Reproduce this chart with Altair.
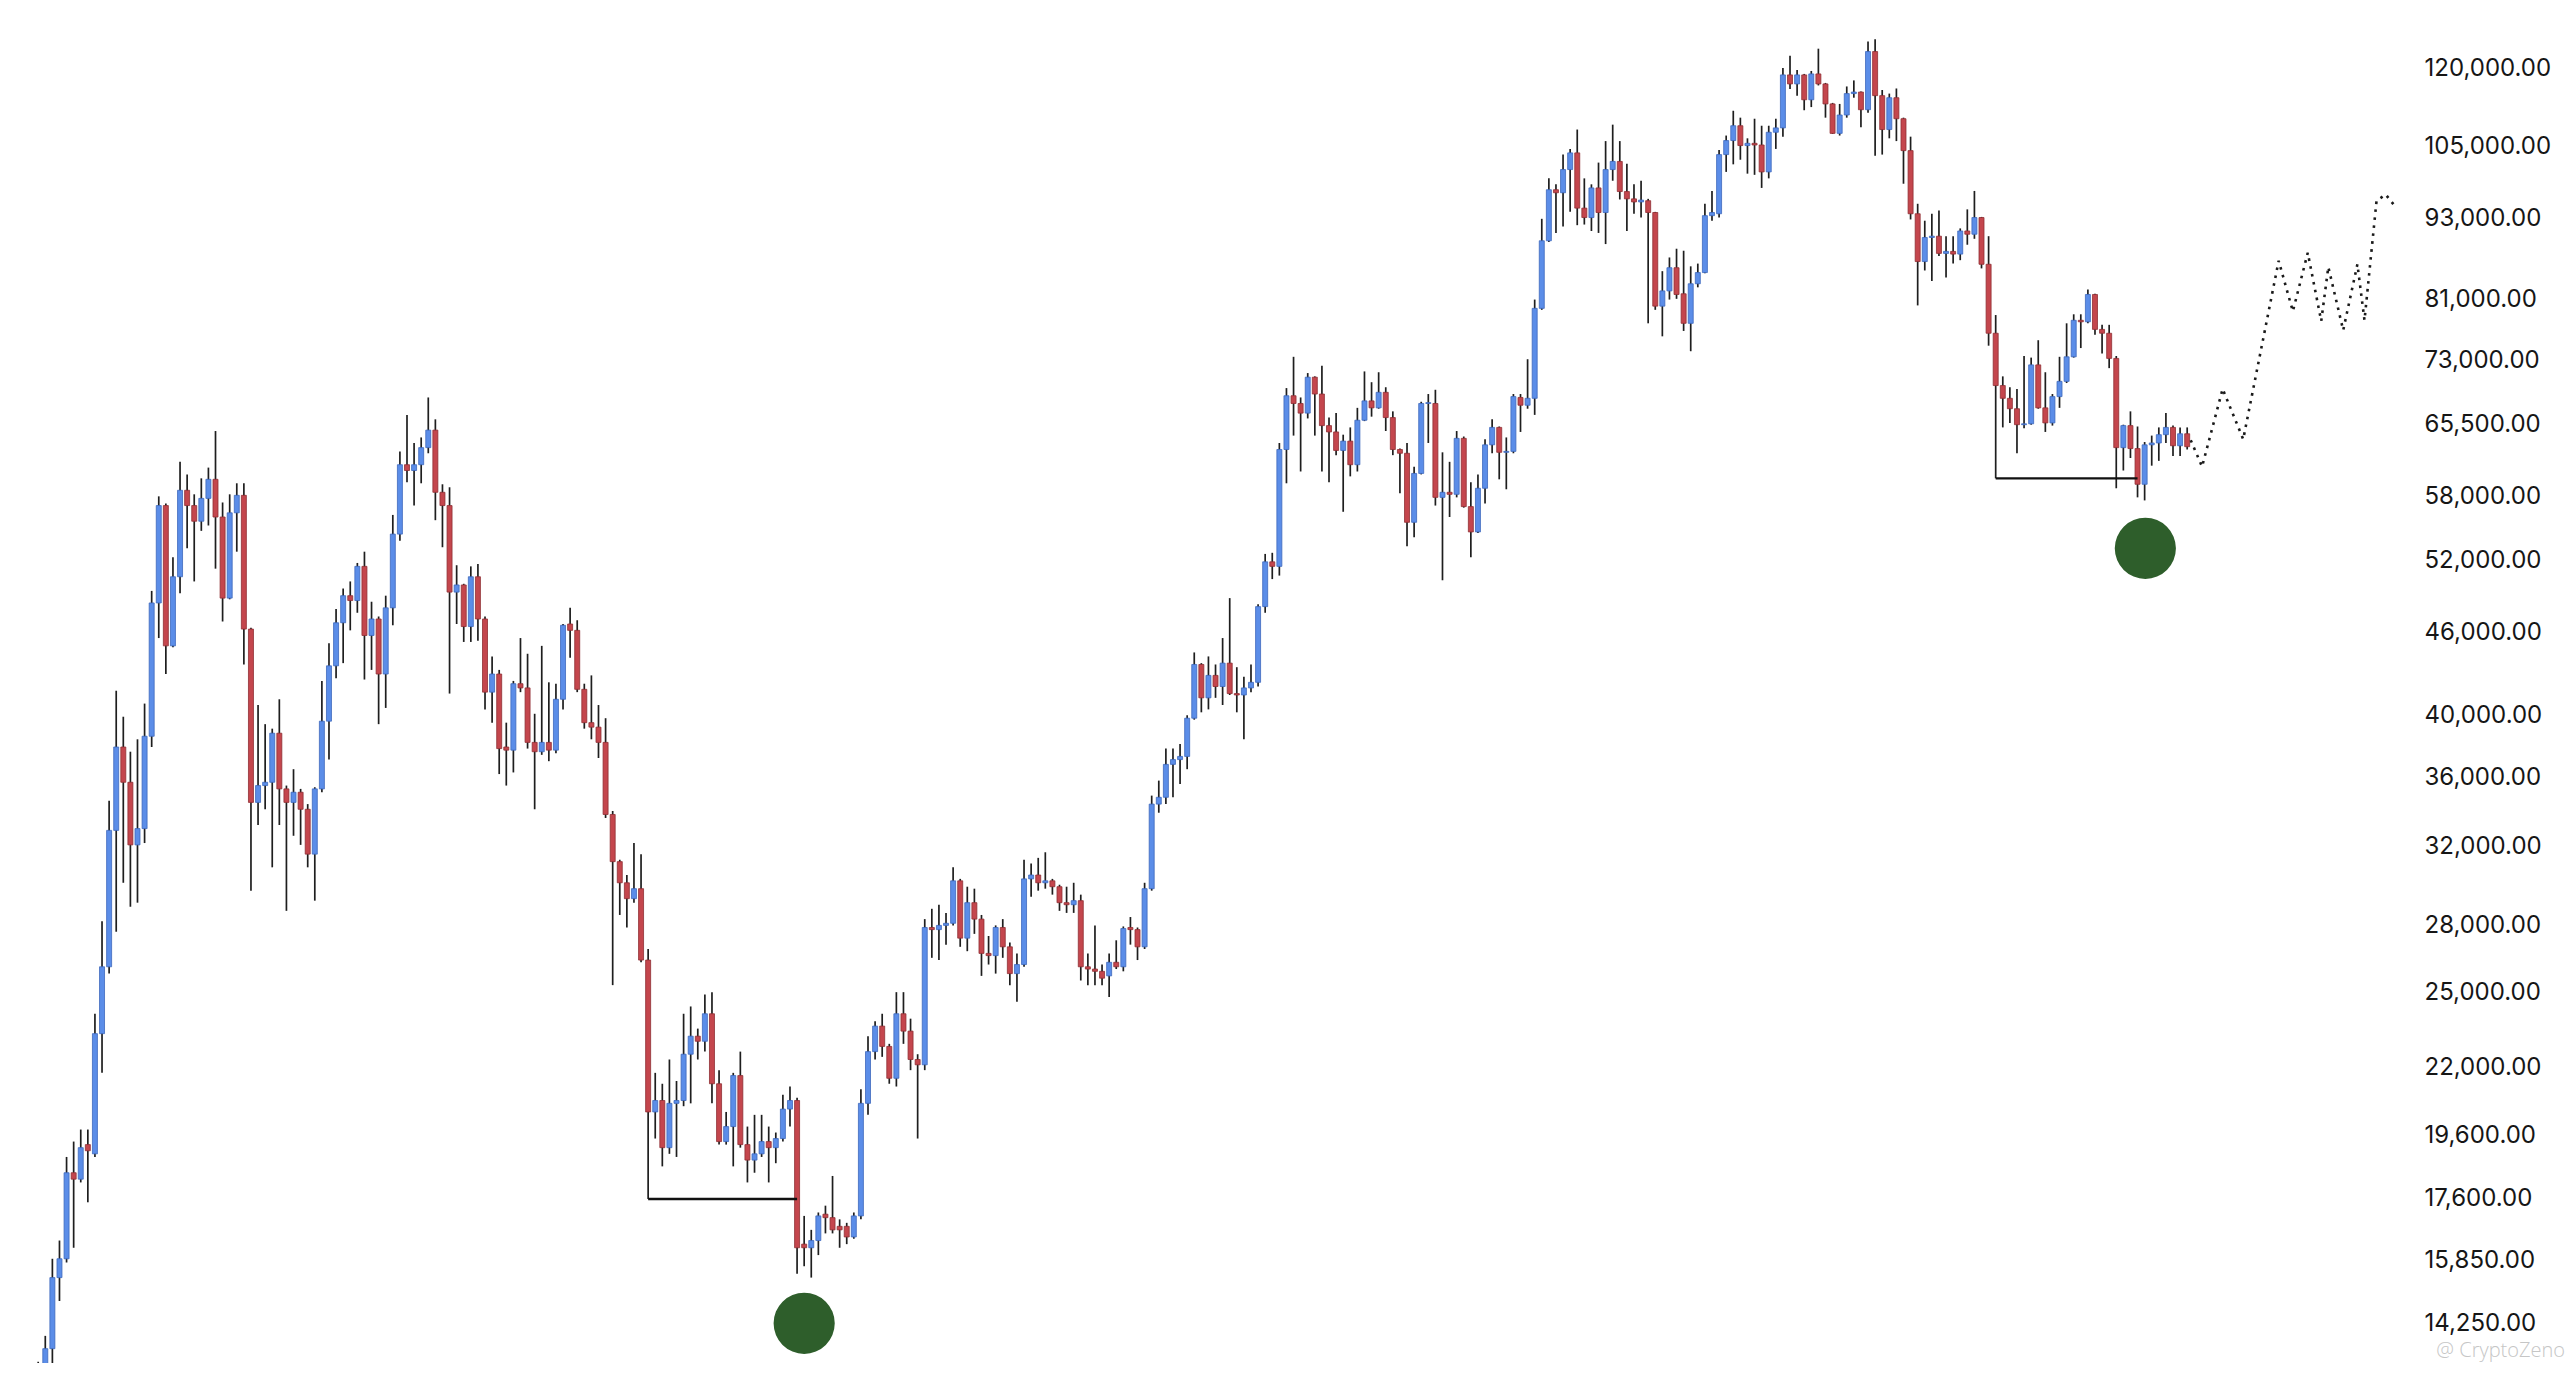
import altair as alt
import pandas as pd

# Weekly candles, prices in thousands of USD, week index 0..303
opens = [
    11.5, 13.2, 13.65, 15.4, 15.9, 18.4, 18.2, 19.3, 19.0, 23.3,
    26.1, 32.9, 37.9, 35.7, 32.1, 33.0, 38.6, 48.4, 57.1, 45.0,
    50.6, 58.6, 57.1, 55.6, 57.8, 59.7, 56.0, 48.8, 56.4, 58.1,
    46.3, 34.5, 35.5, 35.7, 38.8, 35.3, 34.5, 35.1, 34.1, 31.6,
    35.3, 39.6, 43.5, 46.8, 49.0, 48.6, 51.5, 45.8, 47.1, 42.9,
    48.0, 54.4, 61.2, 60.6, 61.2, 63.0, 64.9, 58.4, 57.1, 49.3,
    49.9, 46.5, 50.6, 47.1, 41.6, 42.9, 37.9, 37.7, 42.2, 41.9,
    38.2, 37.6, 38.2, 37.7, 41.1, 46.7, 46.2, 41.8, 39.5, 39.2,
    38.2, 33.8, 31.2, 30.1, 29.3, 29.8, 26.4, 20.4, 20.8, 19.2,
    20.7, 20.8, 22.5, 23.2, 23.0, 24.1, 21.4, 19.4, 19.9, 21.7,
    19.3, 18.8, 19.0, 19.4, 19.2, 19.5, 20.5, 20.8, 16.3, 16.2,
    16.4, 17.15, 17.05, 16.8, 16.8, 16.5, 17.1, 20.7, 22.6, 23.6,
    22.8, 21.6, 24.1, 23.4, 22.3, 22.1, 27.9, 27.8, 28.0, 28.1,
    30.2, 27.4, 29.1, 28.3, 26.7, 26.6, 27.9, 27.0, 25.8, 26.2,
    30.3, 30.5, 30.1, 30.2, 29.9, 29.1, 29.0, 29.2, 26.1, 26.0,
    25.9, 25.7, 26.3, 26.1, 27.9, 27.8, 27.0, 29.8, 34.4, 34.8,
    36.8, 37.1, 37.3, 39.8, 43.6, 41.2, 42.8, 42.0, 43.7, 41.5,
    41.4, 41.9, 42.3, 48.1, 51.9, 51.5, 62.8, 68.8, 67.9, 66.8,
    71.0, 69.0, 65.4, 64.7, 62.7, 63.7, 61.2, 66.0, 68.2, 67.4,
    69.2, 66.3, 62.8, 62.4, 55.5, 60.3, 67.9, 67.9, 57.9, 58.4,
    58.2, 64.0, 57.0, 54.6, 58.8, 63.3, 65.2, 62.5, 62.6, 68.6,
    67.7, 68.5, 79.8, 89.5, 97.6, 97.1, 101.0, 103.9, 94.6, 93.1,
    97.9, 93.9, 101.0, 102.4, 97.3, 96.1, 95.6, 95.8, 93.9, 80.1,
    82.2, 85.5, 81.8, 77.8, 83.2, 84.8, 93.4, 93.7, 103.6, 106.1,
    108.8, 105.2, 105.6, 105.3, 100.6, 107.6, 108.4, 118.6, 116.8, 118.6,
    113.7, 118.8, 116.8, 112.9, 107.4, 110.8, 114.9, 115.2, 111.8, 123.4,
    114.5, 108.1, 114.1, 110.1, 104.3, 93.7, 86.4, 90.0, 90.2, 87.6,
    87.9, 87.5, 91.0, 90.5, 93.1, 86.0, 76.5, 70.0, 68.5, 67.3,
    65.5, 65.6, 72.5, 67.4, 65.7, 68.7, 70.5, 73.5, 78.2, 78.0,
    81.7, 77.0, 76.5, 73.3, 63.0, 65.4, 62.9, 59.2, 63.3, 63.5,
    64.4, 65.2, 63.2, 64.5,
]
closes = [
    13.2, 13.65, 15.4, 15.9, 18.4, 18.2, 19.2, 19.1, 23.3, 26.1,
    32.9, 37.9, 35.7, 32.1, 33.0, 38.6, 48.4, 57.1, 45.0, 50.6,
    58.6, 57.1, 55.6, 57.8, 59.7, 56.0, 48.8, 56.4, 58.1, 46.3,
    34.5, 35.5, 35.7, 38.8, 35.3, 34.5, 35.1, 34.1, 31.6, 35.3,
    39.6, 43.5, 46.8, 49.0, 48.6, 51.5, 45.8, 47.1, 42.9, 48.0,
    54.4, 61.2, 60.6, 61.2, 63.0, 64.9, 58.4, 57.1, 49.3, 49.9,
    46.5, 50.6, 47.1, 41.6, 42.9, 37.8, 37.7, 42.2, 41.9, 38.2,
    37.6, 38.2, 37.7, 41.1, 46.6, 46.2, 41.8, 39.5, 39.2, 38.2,
    33.8, 31.2, 30.1, 29.3, 29.8, 26.4, 20.4, 20.8, 19.2, 20.7,
    20.8, 22.5, 23.2, 23.0, 24.1, 21.4, 19.4, 19.9, 21.7, 19.3,
    18.8, 19.0, 19.4, 19.2, 19.5, 20.5, 20.8, 16.2, 16.2, 16.4,
    17.1, 17.05, 16.7, 16.7, 16.5, 17.1, 20.7, 22.6, 23.6, 22.8,
    21.6, 24.1, 23.4, 22.3, 22.1, 27.9, 27.8, 28.0, 28.1, 30.2,
    27.4, 29.1, 28.3, 26.7, 26.6, 27.9, 27.0, 25.8, 26.2, 30.3,
    30.5, 30.1, 30.2, 29.9, 29.1, 29.0, 29.2, 26.1, 26.0, 25.9,
    25.6, 26.3, 26.1, 27.85, 27.8, 27.0, 29.8, 34.4, 34.8, 36.8,
    37.1, 37.3, 39.8, 43.6, 41.2, 42.8, 42.0, 43.7, 41.5, 41.4,
    41.9, 42.3, 48.1, 51.9, 51.5, 62.8, 68.8, 67.9, 66.8, 71.0,
    69.0, 65.4, 64.7, 62.7, 63.7, 61.2, 66.0, 68.2, 67.4, 69.2,
    66.3, 62.8, 62.4, 55.5, 60.3, 67.9, 68.0, 57.9, 58.4, 58.2,
    64.0, 57.0, 54.6, 58.8, 63.3, 65.2, 62.5, 62.6, 68.7, 67.7,
    68.5, 79.8, 89.5, 97.6, 97.1, 101.0, 103.9, 94.6, 93.1, 97.9,
    93.9, 101.0, 102.4, 97.3, 96.1, 95.6, 95.9, 93.9, 80.1, 82.2,
    85.5, 81.7, 77.8, 83.2, 84.8, 93.4, 93.9, 103.6, 106.1, 108.8,
    105.2, 105.6, 105.3, 100.6, 107.6, 108.4, 118.6, 116.8, 118.6, 113.7,
    118.8, 116.8, 112.9, 107.4, 110.8, 114.9, 115.2, 111.8, 123.4, 114.5,
    108.1, 114.1, 110.1, 104.3, 93.7, 86.4, 90.0, 90.2, 87.6, 87.9,
    87.5, 91.0, 90.5, 93.1, 86.0, 76.5, 70.0, 68.5, 67.3, 65.5,
    65.6, 72.5, 67.4, 65.7, 68.7, 70.5, 73.5, 78.2, 78.0, 81.7,
    77.0, 76.5, 73.3, 63.0, 65.4, 62.9, 59.2, 63.3, 63.5, 64.4,
    65.2, 63.2, 64.5, 63.1,
]
highs = [
    13.35, 13.95, 15.9, 16.4, 18.9, 19.4, 19.8, 19.8, 24.1, 28.2,
    34.6, 41.7, 39.9, 37.6, 38.4, 40.8, 49.4, 58.0, 57.3, 52.3,
    61.5, 60.2, 58.2, 59.8, 60.9, 64.8, 57.4, 58.2, 59.3, 59.3,
    46.4, 40.7, 39.4, 39.1, 41.1, 35.5, 36.5, 35.3, 34.4, 35.4,
    42.4, 45.2, 47.9, 49.6, 50.2, 51.8, 52.8, 48.5, 47.3, 49.0,
    56.2, 62.6, 66.6, 63.5, 64.1, 68.6, 66.1, 59.2, 58.9, 51.6,
    50.0, 51.5, 51.7, 47.3, 44.2, 43.2, 39.5, 42.4, 45.6, 44.4,
    40.1, 45.0, 42.3, 42.2, 46.7, 48.0, 47.0, 42.2, 42.8, 40.7,
    39.8, 34.0, 31.3, 30.5, 32.2, 31.6, 26.9, 21.8, 21.4, 22.3,
    21.5, 24.1, 24.4, 23.5, 24.9, 25.0, 21.9, 20.4, 21.8, 22.6,
    19.9, 20.3, 20.3, 19.9, 19.7, 21.0, 21.3, 20.9, 17.1, 16.7,
    17.2, 17.4, 18.3, 17.0, 16.9, 17.2, 21.2, 23.2, 23.8, 24.1,
    22.9, 25.0, 25.0, 23.9, 22.5, 28.3, 28.8, 29.0, 28.6, 30.9,
    30.3, 29.9, 29.8, 28.5, 27.5, 28.0, 28.3, 27.2, 26.7, 31.3,
    31.1, 31.4, 31.7, 30.3, 30.0, 29.9, 30.1, 29.5, 26.7, 28.0,
    26.2, 26.7, 27.3, 27.95, 28.4, 27.9, 30.1, 34.9, 35.8, 37.8,
    37.8, 38.1, 40.0, 44.5, 43.7, 44.2, 43.6, 45.6, 48.8, 43.4,
    42.7, 43.6, 48.3, 52.6, 52.7, 63.5, 69.7, 73.5, 68.6, 71.5,
    71.1, 72.4, 66.3, 66.8, 64.4, 65.2, 67.4, 71.7, 70.4, 71.6,
    69.8, 67.0, 62.9, 63.5, 61.0, 68.1, 69.0, 69.5, 62.5, 61.5,
    64.8, 64.2, 59.4, 60.2, 63.9, 66.1, 65.3, 64.1, 69.0, 69.0,
    73.2, 81.0, 92.9, 99.5, 98.5, 103.6, 104.6, 108.1, 99.5, 98.5,
    102.2, 106.0, 109.0, 106.0, 102.0, 98.5, 99.1, 96.1, 94.0, 85.0,
    87.0, 88.3, 88.0, 85.7, 86.1, 95.3, 97.4, 104.4, 107.0, 111.6,
    110.3, 106.5, 110.1, 108.8, 108.8, 110.1, 120.0, 122.5, 119.6, 118.8,
    119.4, 124.0, 117.0, 113.1, 112.9, 116.3, 117.5, 115.3, 125.5, 126.0,
    115.6, 114.9, 115.9, 110.3, 106.8, 95.3, 92.6, 93.7, 94.2, 90.2,
    90.2, 91.4, 94.4, 97.4, 93.2, 90.2, 78.9, 71.1, 69.8, 69.6,
    73.6, 73.4, 75.6, 71.6, 69.0, 73.5, 77.8, 79.0, 79.0, 82.4,
    81.8, 77.6, 77.6, 73.6, 65.5, 67.0, 65.3, 63.6, 64.3, 65.2,
    66.8, 65.4, 65.2, 65.2,
]
lows = [
    11.4, 12.9, 13.3, 14.8, 15.8, 16.2, 18.1, 17.5, 18.9, 21.8,
    25.8, 27.7, 30.1, 28.9, 29.1, 32.2, 37.9, 45.6, 42.9, 44.9,
    49.2, 53.1, 50.2, 54.7, 55.2, 51.3, 46.9, 48.7, 52.8, 43.6,
    29.7, 33.2, 34.1, 30.9, 33.2, 28.7, 32.6, 32.1, 30.9, 29.2,
    35.1, 37.1, 42.6, 43.7, 46.2, 47.6, 42.5, 43.2, 39.4, 40.5,
    46.6, 53.8, 59.4, 57.1, 59.3, 62.4, 55.7, 53.2, 41.5, 46.7,
    45.3, 45.3, 45.4, 40.4, 39.5, 36.2, 35.5, 36.3, 41.6, 37.8,
    34.1, 37.4, 37.0, 37.5, 40.4, 44.1, 41.6, 39.1, 38.4, 37.2,
    33.6, 25.3, 28.5, 27.9, 29.1, 26.3, 17.6, 19.5, 18.6, 19.0,
    18.9, 20.6, 20.7, 22.3, 22.6, 20.7, 19.3, 19.3, 18.6, 19.2,
    18.1, 18.4, 18.9, 18.1, 18.7, 19.4, 19.9, 15.5, 15.7, 15.4,
    16.0, 16.6, 16.6, 16.2, 16.3, 16.45, 17.0, 20.3, 22.3, 22.4,
    21.4, 21.3, 22.9, 21.9, 19.5, 21.9, 26.5, 26.4, 27.1, 28.0,
    27.0, 26.8, 27.6, 25.7, 26.2, 25.8, 26.5, 25.3, 24.6, 26.1,
    29.4, 29.7, 29.8, 29.5, 28.7, 28.6, 28.6, 25.5, 25.3, 25.3,
    25.3, 24.8, 26.0, 25.9, 27.1, 26.4, 26.9, 29.7, 33.9, 34.4,
    34.8, 35.6, 36.5, 39.7, 40.2, 40.4, 41.2, 40.7, 41.4, 40.2,
    38.4, 41.6, 42.0, 47.6, 50.4, 50.7, 59.3, 64.3, 60.5, 66.2,
    64.3, 60.5, 59.4, 62.2, 56.5, 60.0, 60.5, 65.9, 66.4, 67.3,
    64.8, 62.2, 58.3, 53.3, 54.1, 60.2, 63.5, 57.1, 50.3, 56.0,
    57.9, 56.9, 52.3, 54.5, 57.3, 62.4, 59.7, 58.7, 62.4, 64.7,
    67.3, 66.6, 79.6, 89.3, 90.7, 91.7, 94.0, 91.9, 92.0, 91.0,
    90.7, 89.0, 99.1, 96.0, 91.0, 93.7, 93.1, 77.8, 79.6, 76.1,
    81.0, 81.1, 76.8, 74.2, 82.7, 84.7, 92.6, 93.1, 100.6, 101.9,
    102.7, 100.3, 100.1, 97.9, 99.5, 104.6, 106.8, 115.8, 114.5, 111.7,
    112.3, 116.5, 110.3, 107.3, 107.0, 110.3, 114.1, 108.5, 111.2, 103.4,
    103.6, 106.5, 106.0, 98.6, 92.8, 80.2, 85.1, 83.6, 87.2, 84.1,
    86.1, 86.6, 88.9, 89.8, 85.4, 74.9, 59.8, 65.2, 65.7, 62.4,
    65.1, 65.5, 67.3, 64.7, 65.4, 67.4, 70.3, 73.4, 74.6, 77.8,
    76.3, 73.9, 72.1, 58.8, 60.6, 61.9, 57.9, 57.6, 61.1, 61.6,
    63.5, 62.1, 62.1, 62.8,
]

# Horizontal "low" markers: (start week, end week, price in thousands)
marker_start = [86, 276]
marker_end = [107, 296]
marker_price = [17.6, 59.8]

# Green circles
circle_week = [108, 297.1]
circle_price = [14.25, 53.1]

# Dotted projection path (week index, price in thousands)
proj_week = [303.5, 305.1, 308.0, 310.9, 315.9, 317.9, 320.0, 321.9, 322.9,
             325.0, 327.0, 328.0, 329.7, 331.0, 332.1]
proj_price = [63.8, 61.0, 69.6, 63.9, 86.5, 79.4, 87.7, 78.1, 85.6,
              76.9, 86.0, 78.2, 95.8, 96.8, 95.2]

tick_values = [14250, 15850, 17600, 19600, 22000, 25000, 28000, 32000, 36000,
               40000, 46000, 52000, 58000, 65500, 73000, 81000, 93000,
               105000, 120000]

watermark_text = ["@ CryptoZeno"]

n = min(len(opens), len(closes), len(highs), len(lows))
candles = pd.DataFrame({
    "week": list(range(n)),
    "open": [v * 1000 for v in opens[:n]],
    "close": [v * 1000 for v in closes[:n]],
    "high": [v * 1000 for v in highs[:n]],
    "low": [v * 1000 for v in lows[:n]],
})
candles["dir"] = ["up" if c >= o else "down" for o, c in zip(candles["open"], candles["close"])]

markers = pd.DataFrame({
    "s": marker_start, "e": marker_end, "p": [v * 1000 for v in marker_price]
})
circles = pd.DataFrame({"week": circle_week, "p": [v * 1000 for v in circle_price]})
proj = pd.DataFrame({
    "week": proj_week, "p": [v * 1000 for v in proj_price],
    "k": list(range(len(proj_week))),
})

W, H = 2405, 1355
xscale = alt.Scale(domain=[-3.5524, 334.134], nice=False, zero=False)
yscale = alt.Scale(type="log", domain=[13322, 132866], nice=False, zero=False)
yaxis = alt.Axis(orient="right", values=tick_values, format=",.2f", title=None,
                 ticks=False, tickSize=0, domain=False, grid=False,
                 labelPadding=11, labelFont="Inter", labelFontSize=24,
                 labelColor="#161616", labelAlign="left", labelBaseline="middle",
                 labelOverlap=False, labelFlush=False, labelBound=False)

X = alt.X("week:Q", scale=xscale, axis=None)

wicks = alt.Chart(candles).mark_rule(color="#1e1e1e", strokeWidth=1.7, clip=True).encode(
    x=X,
    y=alt.Y("low:Q", scale=yscale, axis=yaxis),
    y2="high:Q",
)

color_scale = alt.Scale(domain=["up", "down"], range=["#5b8de8", "#c4464d"])
stroke_scale = alt.Scale(domain=["up", "down"], range=["#3e68bd", "#8f2e34"])

bodies = alt.Chart(candles).mark_bar(size=5, strokeWidth=0.8, clip=True).encode(
    x=X,
    y=alt.Y("open:Q", scale=yscale, axis=yaxis),
    y2="close:Q",
    color=alt.Color("dir:N", scale=color_scale, legend=None),
    stroke=alt.Stroke("dir:N", scale=stroke_scale, legend=None),
)

marker_lines = alt.Chart(markers).mark_rule(color="#111111", strokeWidth=2.4).encode(
    x=alt.X("s:Q", scale=xscale, axis=None),
    x2="e:Q",
    y=alt.Y("p:Q", scale=yscale, axis=yaxis),
)

projection = alt.Chart(proj).mark_line(
    color="#1a1a1a", strokeWidth=2.6, strokeDash=[2.6, 5.4]
).encode(
    x=alt.X("week:Q", scale=xscale, axis=None),
    y=alt.Y("p:Q", scale=yscale, axis=yaxis),
    order="k:Q",
)

dots = alt.Chart(circles).mark_circle(size=3740, color="#2e5e2b", opacity=1).encode(
    x=alt.X("week:Q", scale=xscale, axis=None),
    y=alt.Y("p:Q", scale=yscale, axis=yaxis),
)

watermark = alt.Chart(pd.DataFrame({"t": watermark_text})).mark_text(
    font="Open Sans", fontSize=20, fontWeight=300, color="#c6c6c6",
    align="right", baseline="middle",
).encode(text="t:N", x=alt.value(2557), y=alt.value(1343))

chart = alt.layer(wicks, bodies, marker_lines, projection, dots, watermark).properties(
    width=W, height=H, padding=0, background="white"
).configure_view(strokeWidth=0)

chart.save("out.html", embed_options={"renderer": "svg", "actions": False})
